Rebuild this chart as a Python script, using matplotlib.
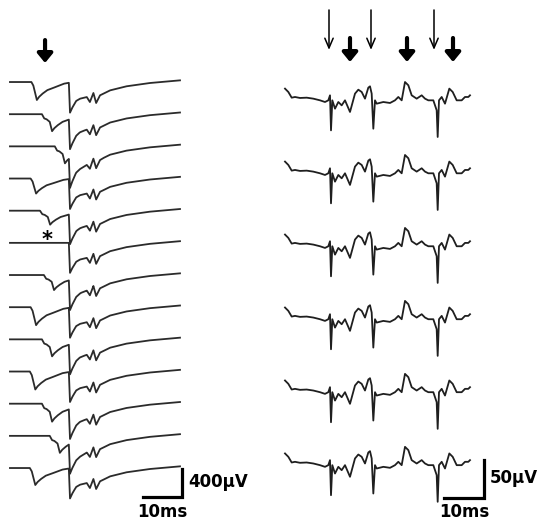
import numpy as np
import matplotlib.pyplot as plt

# left panel: 13 sweeps (ms, uV)
left_dip_time = [7.4, 11.3, 14.6, 7.2, 10.8, 0.0, 11.8, 7.2, 11.3, 7.0, 11.3, 13.3, 7.0]
left_dip_depth = [257, 243, 243, 215, 200, 0, 215, 257, 243, 257, 257, 243, 243]
left_dip_shape = [0, 1, 1, 0, 1, 0, 1, 0, 1, 0, 1, 1, 0]

# dip shapes relative to the dip minimum (ms, fraction of depth)
dip_dt = [[-1.4, -0.9, 0.0, 0.6, 1.5, 2.7, 4.4, 7.0, 8.3, 10.0],
          [-2.6, -2.0, -1.4, -0.6, 0.0, 0.6, 1.5, 2.7, 4.4, 7.0, 8.3, 10.0]]
dip_frac = [[0, -0.2, -1.0, -0.82, -0.64, -0.45, -0.31, -0.09, -0.04, 0],
            [0, -0.25, -0.3, -0.45, -1.0, -0.82, -0.64, -0.45, -0.31, -0.09, -0.04, 0]]

# stimulus artifact + late response (same in every sweep)
art_t = [15.6, 15.9, 16.5, 17.5, 18.5, 20.2, 21.0, 21.9, 22.6, 23.6, 26.2, 30.4, 36.4, 44.1]
art_v = [0, -429, -360, -270, -238, -215, -286, -157, -300, -190, -119, -61, -14, 24]

left_arrow_t = [9.5]
asterisk_sweep = 5

# right panel: 6 sweeps (ms, uV)
right_t = [-0.25, 0.58, 1.42, 2.25, 3.5, 5.17, 6.83, 8.5, 9.75, 10.58, 11.0, 11.25, 11.58,
           12.25, 13.08, 13.92, 14.75, 16.0, 17.25, 18.08, 18.92, 19.75, 20.58, 21.0,
           21.42, 21.83, 22.25, 22.67, 24.33, 26.0, 27.25, 28.08, 28.92, 29.75, 30.58,
           31.42, 32.67, 33.92, 34.75, 35.58, 36.83, 37.67, 37.92, 38.25, 38.92, 39.75,
           40.83, 41.67, 42.67, 43.92, 44.75, 45.58, 46.0]
right_v = [11.0, 6.6, -0.9, 0.0, -1.3, -0.9, -2.2, -4.4, -6.6, -4.4, 2.2, -43.9, -4.4,
           -15.4, -6.6, -11.0, -4.4, -19.7, 4.4, 9.6, 6.6, -2.2, 12.3, 14.0,
           4.4, -41.7, -4.4, -8.8, -6.6, -7.9, -4.4, 0.0, -4.4, 19.7, 15.4,
           2.2, -2.2, 2.2, -2.2, -4.4, -4.4, -17.5, -52.6, -4.4, 0.0, -8.8,
           11.0, 6.6, -4.4, -4.4, 0.0, 0.0, 2.2]
right_thin_arrow_t = [10.75, 21.25, 37.0]
right_thick_arrow_t = [16.0, 30.25, 41.75]
n_right = 6

fig = plt.figure(figsize=(5.5, 5.29), dpi=100)
axl = fig.add_axes([0, 0, 0.5, 1])
axr = fig.add_axes([0.5, 0, 0.5, 1])

# ---- left panel ----
left_spacing = 460
for k in range(len(left_dip_time)):
    s = left_dip_shape[k]
    dt = np.array(dip_dt[s]) + left_dip_time[k]
    fr = np.array(dip_frac[s]) * left_dip_depth[k]
    pts = np.concatenate([[0.5], dt, art_t])
    pts = np.unique(pts[(pts >= 0.5) & (pts <= 44.1)])
    v = np.interp(pts, dt, fr, left=0, right=0) + np.interp(pts, art_t, art_v, left=0, right=art_v[-1])
    axl.plot(pts, v - k * left_spacing, color='#2b2b2b', lw=1.3)

for t in left_arrow_t:
    axl.annotate('', xy=(t, 272), xytext=(t, 600),
                 arrowprops=dict(arrowstyle='-|>,head_width=0.45,head_length=0.55',
                                 lw=3, color='black', shrinkA=0, shrinkB=0))

axl.text(10.0, -(246 - 82) * 14.3, '*', fontsize=15, fontweight='bold',
         ha='center', va='baseline')

# scale bar 10 ms / 400 uV
axl.plot([34.6, 44.6, 44.6], [-5935, -5935, -5535], color='black', lw=2.3,
         solid_joinstyle='miter')
axl.text(46.2, -5720, '400µV', fontsize=12, fontweight='bold', ha='left', va='center')
axl.text(39.6, -6020, '10ms', fontsize=12, fontweight='bold', ha='center', va='top')

axl.set_xlim(-2.05, 68.46)
axl.set_ylim(-6392, 1173)
axl.axis('off')

# ---- right panel ----
right_spacing = 96
for k in range(n_right):
    axr.plot(right_t, np.array(right_v) - k * right_spacing, color='#1f1f1f', lw=1.3)

for t in right_thin_arrow_t:
    axr.annotate('', xy=(t, 62), xytext=(t, 114.5),
                 arrowprops=dict(arrowstyle='->,head_width=0.3,head_length=0.7',
                                 lw=1.1, color='black', shrinkA=0, shrinkB=0))
for t in right_thick_arrow_t:
    axr.annotate('', xy=(t, 46), xytext=(t, 77.6),
                 arrowprops=dict(arrowstyle='-|>,head_width=0.45,head_length=0.55',
                                 lw=3, color='black', shrinkA=0, shrinkB=0))

# scale bar 10 ms / 50 uV
axr.plot([39.5, 49.5, 49.5], [-527.7, -527.7, -477.7], color='black', lw=2.3,
         solid_joinstyle='miter')
axr.text(51.0, -501, '50µV', fontsize=12, fontweight='bold', ha='left', va='center')
axr.text(44.5, -534, '10ms', fontsize=12, fontweight='bold', ha='center', va='top')

axr.set_xlim(-2.75, 66)
axr.set_ylim(-568.4, 127.6)
axr.axis('off')

fig.savefig('out.png', dpi=100)
